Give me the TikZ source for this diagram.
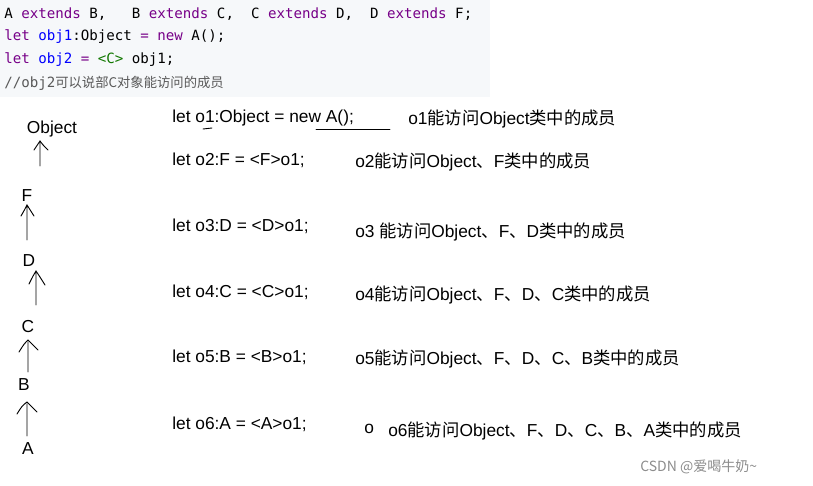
\documentclass[tikz,border=0pt]{standalone}
\usepackage{fontspec}
\setmainfont{Liberation Sans}
\newfontfamily\cjk{Noto Sans CJK SC}
\newfontfamily\codefont{DejaVu Sans Mono}
\newcommand{\zh}[1]{{\cjk #1}}
\definecolor{kw}{HTML}{770088}
\definecolor{vr}{HTML}{0000FF}
\definecolor{gn}{HTML}{117700}
\definecolor{bgc}{HTML}{F6F8FA}
\begin{document}
\begin{tikzpicture}[x=0.75pt,y=-0.75pt,
  code/.style={anchor=west,inner sep=0pt,font=\codefont\fontsize{10.6pt}{12pt}\selectfont},
  txt/.style={anchor=west,inner sep=0pt,font=\fontsize{13pt}{15pt}\selectfont},
  cls/.style={inner sep=0pt,font=\fontsize{13pt}{15pt}\selectfont},
  hand/.style={line width=0.7pt,line cap=round}]
\useasboundingbox (0,0) rectangle (813,485);
\fill[bgc] (0,0) rectangle (490,97);
\node[code] (c1) at (4,14) {A \textcolor{kw}{extends} B,\ \ \ B \textcolor{kw}{extends} C,\ \ C \textcolor{kw}{extends} D,\ \ D \textcolor{kw}{extends} F;};
\node[code] (c2) at (4,37) {\textcolor{kw}{let} \textcolor{vr}{obj1}:Object \textcolor{kw}{=} \textcolor{kw}{new} A();};
\node[code] (c3) at (4,60) {\textcolor{kw}{let} \textcolor{vr}{obj2} \textcolor{kw}{=} \textcolor{gn}{<C>} obj1;};
\node[code,text=black!65] (c4) at (4,83) {//obj2{\cjk\fontsize{10pt}{12pt}\selectfont 可以说部C对象能访问的成员}};
% classes
\node[cls] (ob) at (52,129) {Object};
\node[cls] (f) at (27,196) {F};
\node[cls] (d) at (29,261) {D};
\node[cls] (c) at (28,327) {C};
\node[cls] (b) at (24,385) {B};
\node[cls] (a) at (28,449) {A};
\draw[hand] (40,166) -- (40,143) (34,150) .. controls (38,144) .. (40,141) .. controls (43,145) .. (48,150);
\draw[hand] (27,240) -- (27,207) (21,216) .. controls (25,209) .. (27,205) .. controls (30,210) .. (34,216);
\draw[hand] (36,305) -- (36,273) (29,284) .. controls (33,276) .. (36,271) .. controls (40,277) .. (45,285);
\draw[hand] (28,372) -- (28,342) (19,352) .. controls (24,344) .. (28,340) .. controls (32,344) .. (38,350);
\draw[hand] (27,436) -- (27,404) (17,414) .. controls (22,406) .. (27,402) .. controls (31,406) .. (37,412);
% rows
\node[txt] (l1) at (172,118) {let o1:Object = new A();};
\node[txt] (r1) at (408,119) {o1\zh{能访问}Object\zh{类中的成员}};
\node[txt] (l2) at (172,160) {let o2:F = <F>o1;};
\node[txt] (r2) at (355,162) {o2\zh{能访问}Object\zh{、}F\zh{类中的成员}};
\node[txt] (l3) at (172,226) {let o3:D = <D>o1;};
\node[txt] (r3) at (355,232) {o3 \zh{能访问}Object\zh{、}F\zh{、}D\zh{类中的成员}};
\node[txt] (l4) at (172,292) {let o4:C = <C>o1;};
\node[txt] (r4) at (355,295) {o4\zh{能访问}Object\zh{、}F\zh{、}D\zh{、}C\zh{类中的成员}};
\node[txt] (l5) at (172,357) {let o5:B = <B>o1;};
\node[txt] (r5) at (355,359) {o5\zh{能访问}Object\zh{、}F\zh{、}D\zh{、}C\zh{、}B\zh{类中的成员}};
\node[txt] (l6) at (172,424) {let o6:A = <A>o1;};
\node[txt] (o) at (364,429) {o};
\node[txt] (r6) at (388,431) {o6\zh{能访问}Object\zh{、}F\zh{、}D\zh{、}C\zh{、}B\zh{、}A\zh{类中的成员}};
\draw[hand] (203,129) -- (212,128);
\draw[hand] (316,129) -- (390,129);
\node[anchor=west,inner sep=0pt,text=black!45,font=\cjk\fontsize{10.5pt}{12pt}\selectfont] (wm) at (640,467) {CSDN @爱喝牛奶\textasciitilde};
\end{tikzpicture}
\end{document}
